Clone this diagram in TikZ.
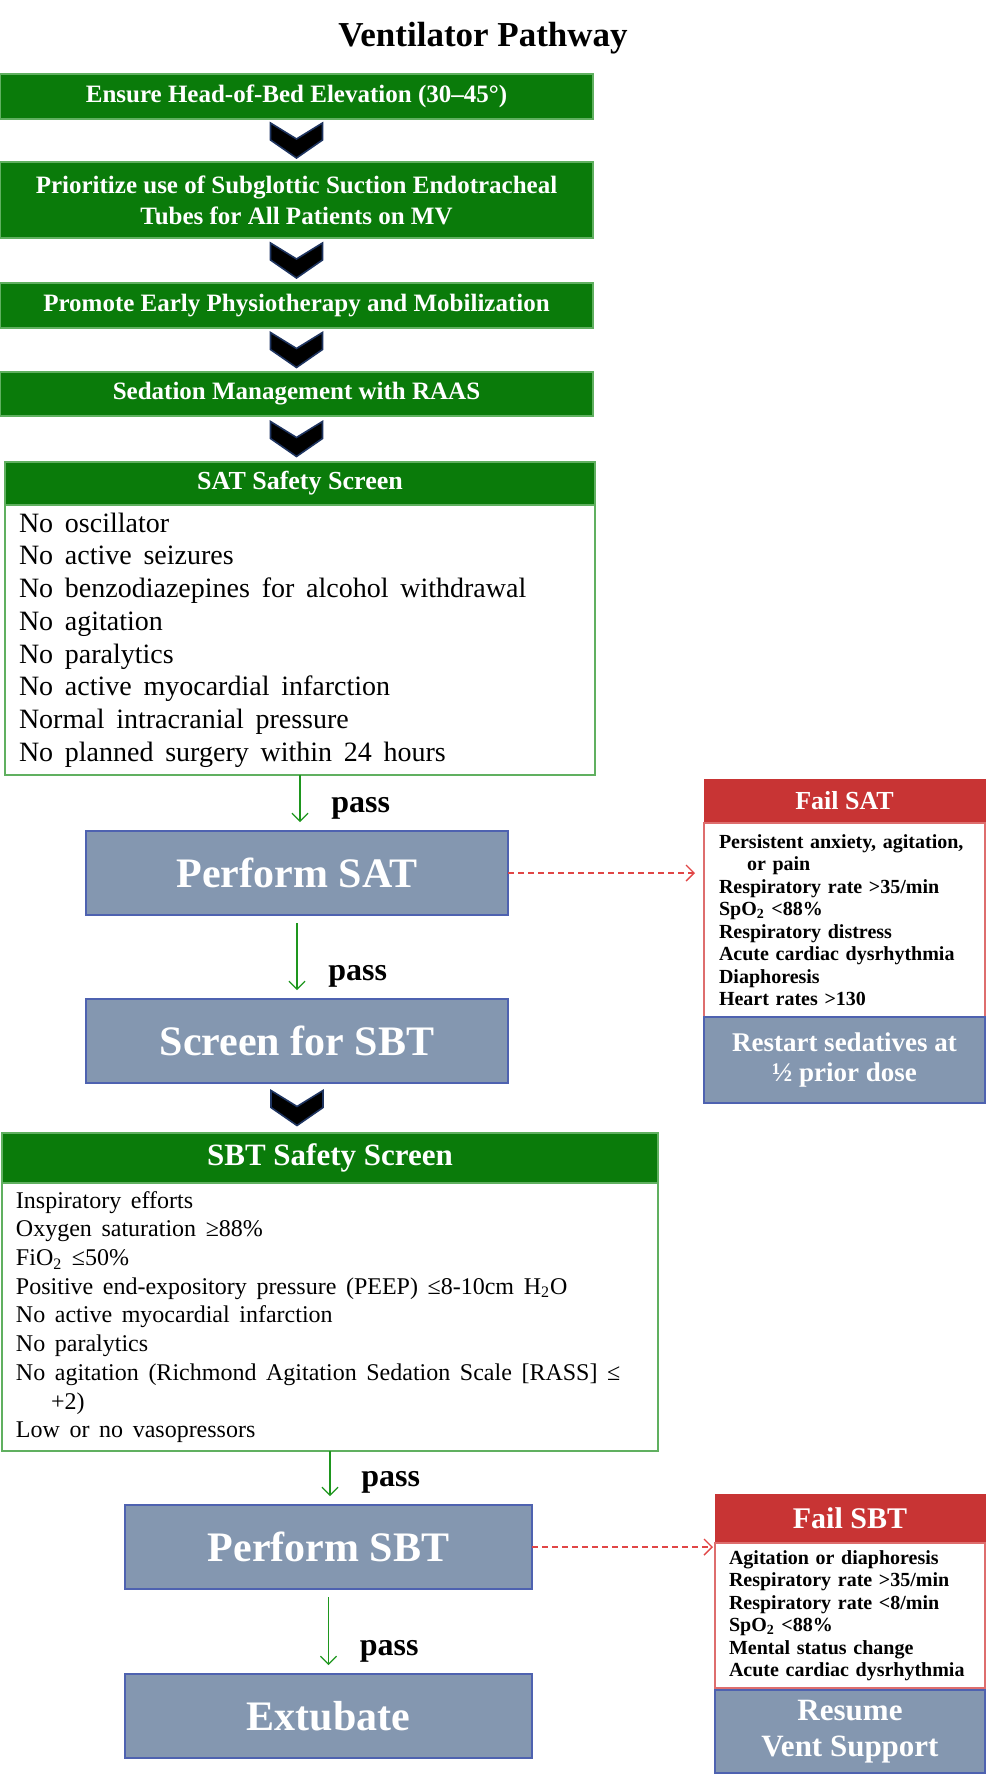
\documentclass[tikz,border=0pt]{standalone}
\usepackage{fontspec}
\setmainfont{Liberation Serif}
\usepackage{tikz}
\usetikzlibrary{shapes,arrows.meta,positioning,calc}
\definecolor{ventgreen}{RGB}{10,123,10}
\definecolor{ventedge}{RGB}{96,176,96}
\definecolor{passgreen}{RGB}{30,150,30}
\definecolor{failred}{RGB}{200,52,52}
\definecolor{failedge}{RGB}{222,110,110}
\definecolor{faildash}{RGB}{225,70,70}
\definecolor{slate}{RGB}{132,151,176}
\definecolor{slateedge}{RGB}{78,98,176}
\definecolor{chevedge}{RGB}{30,52,96}
\newcommand{\widespace}[1]{\spaceskip=#1em plus 0.1em\relax}
\tikzstyle{action} = [rectangle, minimum width=296.5pt, minimum height=22.5pt, text centered, align=center, inner ysep=0pt, outer sep=0pt, draw=ventedge, line width=0.6pt, fill=ventgreen, text=white, font=\bfseries\fontsize{12.5}{15.5}\selectfont]
\tikzstyle{screenhead} = [rectangle, minimum height=21.5pt, inner ysep=0pt, outer sep=0pt, draw=ventedge, line width=0.6pt, fill=ventgreen, text=white]
\tikzstyle{screenbody} = [rectangle, align=left, inner xsep=7pt, inner ysep=0pt, outer sep=0pt, draw=ventedge, line width=0.6pt, fill=white]
\tikzstyle{task} = [rectangle, minimum width=211pt, minimum height=42pt, text centered, outer sep=0pt, draw=slateedge, line width=0.6pt, fill=slate, text=white, font=\bfseries\fontsize{21}{25}\selectfont]
\tikzstyle{failhead} = [rectangle, inner ysep=0pt, outer sep=0pt, draw=failred, fill=failred, text=white]
\tikzstyle{failbody} = [rectangle, align=left, inner ysep=0pt, outer sep=0pt, draw=failedge, line width=0.6pt, fill=white, font=\bfseries\fontsize{10}{11.25}\selectfont]
\tikzstyle{remedy} = [rectangle, align=center, inner ysep=0pt, outer sep=0pt, draw=slateedge, line width=0.6pt, fill=slate, text=white]
\tikzstyle{chevron} = [fill=black, draw=chevedge, line width=0.8pt, line join=miter]
\tikzstyle{passarrow} = [draw=passgreen, line width=0.6pt, -{Straight Barb[length=4pt,width=8pt]}, shorten >=4.5pt]
\tikzstyle{failarrow} = [draw=faildash, line width=0.7pt, dash pattern=on 3pt off 2pt, -{Straight Barb[length=4pt,width=8pt]}]
\tikzstyle{passlabel} = [anchor=west, xshift=12pt, yshift=11.5pt, text=black, font=\bfseries\fontsize{16}{18}\selectfont]

\begin{document}
\begin{tikzpicture}[x=0.5pt, y=-0.5pt]
\useasboundingbox (0,0) rectangle (986,1782);
\node (title) [anchor=base, font=\bfseries\fontsize{17.5}{21}\selectfont] at (483,47) {Ventilator Pathway};

% main column
\node (ensure) [action] at (296.5,96.5) {Ensure Head-of-Bed Elevation (30–45°)};
\node (subglottic) [action, minimum height=38pt, below=21.5pt of ensure] {Prioritize use of Subglottic Suction Endotracheal\\Tubes for All Patients on MV};
\node (mobilize) [action, below=22.5pt of subglottic] {Promote Early Physiotherapy and Mobilization};
\node (sedation) [action, minimum height=22pt, below=22pt of mobilize] {Sedation Management with RAAS};
\node (sathead) [screenhead, minimum width=295pt, below=23pt of sedation, xshift=1.75pt, font=\bfseries\fontsize{13}{15}\selectfont] {SAT Safety Screen};
\node (satbody) [screenbody, text width=281pt, minimum height=135pt, below=0pt of sathead, font=\fontsize{14}{16.35}\selectfont] {\widespace{0.42}No oscillator\\No active seizures\\No benzodiazepines for alcohol withdrawal\\No agitation\\No paralytics\\No active myocardial infarction\\Normal intracranial pressure\\No planned surgery within 24 hours};
\node (performsat) [task, below=28pt of satbody, xshift=-1.5pt] {Perform SAT};
\node (screensbt) [task, below=42pt of performsat] {Screen for SBT};
\node (sbthead) [screenhead, minimum width=328pt, minimum height=25pt, below=25pt of screensbt, xshift=16.5pt, font=\bfseries\fontsize{15.5}{18}\selectfont] {SBT Safety Screen};
\node (sbtbody) [screenbody, text width=314pt, minimum height=134pt, below=0pt of sbthead, font=\fontsize{12}{14.35}\selectfont] {\widespace{0.4}Inspiratory efforts\\Oxygen saturation ≥88\%\\FiO\textsubscript{2} ≤50\%\\Positive end-expository pressure (PEEP) ≤8-10cm H\textsubscript{2}O\\No active myocardial infarction\\No paralytics\\\makebox[300pt][s]{No agitation (Richmond Agitation Sedation Scale [RASS] ≤}\\\hspace*{17.5pt}+2)\\Low or no vasopressors};
\node (performsbt) [task, minimum width=203.5pt, below=27pt of sbtbody, xshift=-0.75pt] {Perform SBT};
\node (extubate) [task, minimum width=203.5pt, below=42.5pt of performsbt] {Extubate};

% failure branches
\node (failsathead) [failhead, minimum width=140.5pt, minimum height=22pt, anchor=north west, font=\bfseries\fontsize{13}{15}\selectfont] at (704,779) {Fail SAT};
\node (failsatbody) [failbody, text width=125.5pt, inner xsep=7.5pt, minimum height=97pt, below=0pt of failsathead] {Persistent anxiety, agitation,\\\hspace*{14pt}or pain\\Respiratory rate >35/min\\SpO\textsubscript{2} <88\%\\Respiratory distress\\Acute cardiac dysrhythmia\\Diaphoresis\\Heart rates >130};
\node (restart) [remedy, minimum width=140.5pt, minimum height=43pt, below=0pt of failsatbody, font=\bfseries\fontsize{13.5}{15}\selectfont] {Restart sedatives at\\½ prior dose};
\node (failsbthead) [failhead, minimum width=135pt, minimum height=24.5pt, anchor=north west, font=\bfseries\fontsize{15}{18}\selectfont] at (715,1494) {Fail SBT};
\node (failsbtbody) [failbody, text width=121pt, inner xsep=7pt, minimum height=72.5pt, below=0pt of failsbthead] {Agitation or diaphoresis\\Respiratory rate >35/min\\Respiratory rate <8/min\\SpO\textsubscript{2} <88\%\\Mental status change\\Acute cardiac dysrhythmia};
\node (resume) [remedy, minimum width=135pt, minimum height=41.5pt, below=1pt of failsbtbody, font=\bfseries\fontsize{15.5}{18}\selectfont] {Resume\\Vent Support};

% chevrons between steps
\foreach \a/\b in {ensure/subglottic, subglottic/mobilize, mobilize/sedation, sedation/sathead, screensbt/sbthead}
	\filldraw[chevron] ($(\a.south)!0.5!(\a.south |- \b.north)$) ++(-26,-17.5) -- ++(26,16) -- ++(26,-16) -- ++(0,17) -- ++(-26,18) -- ++(-26,-18) -- cycle;

\draw [passarrow] (satbody.south) -- node[pos=1, passlabel] {pass} (satbody.south |- performsat.north);
\draw [passarrow, shorten <=4pt] (performsat.south) -- node[pos=1, passlabel] {pass} (screensbt.north);
\draw [passarrow] (sbtbody.south) -- node[pos=1, passlabel] {pass} (sbtbody.south |- performsbt.north);
\draw [passarrow, shorten <=4pt] (performsbt.south) -- node[pos=1, passlabel] {pass} (extubate.north);
\draw [failarrow, shorten >=4.5pt] (performsat.east) -- (performsat.east -| failsatbody.west);
\draw [failarrow, shorten >=1pt] (performsbt.east) -- (performsbt.east -| failsbtbody.west);
\end{tikzpicture}
\end{document}
